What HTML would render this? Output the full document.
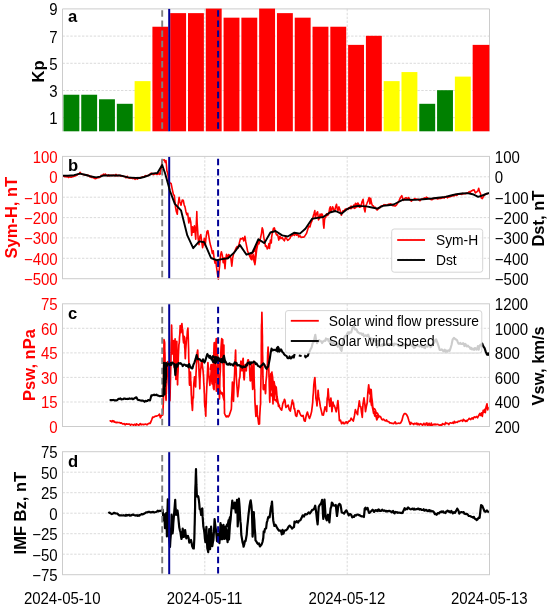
<!DOCTYPE html>
<html><head><meta charset="utf-8"><title>Storm May 2024</title>
<style>html,body{margin:0;padding:0;background:#fff}svg{display:block}text{font-family:"Liberation Sans", Arial, sans-serif}</style></head><body>
<svg width="550" height="609" viewBox="0 0 550 609">
<rect width="550" height="609" fill="#fff"/>
<line x1="62.5" x2="489.5" y1="117.7" y2="117.7" stroke="#cccccc" stroke-width="0.7" stroke-dasharray="2.4 1.5"/>
<line x1="62.5" x2="489.5" y1="90.5" y2="90.5" stroke="#cccccc" stroke-width="0.7" stroke-dasharray="2.4 1.5"/>
<line x1="62.5" x2="489.5" y1="63.3" y2="63.3" stroke="#cccccc" stroke-width="0.7" stroke-dasharray="2.4 1.5"/>
<line x1="62.5" x2="489.5" y1="36.1" y2="36.1" stroke="#cccccc" stroke-width="0.7" stroke-dasharray="2.4 1.5"/>
<line x1="204.8" x2="204.8" y1="8.9" y2="131.3" stroke="#cccccc" stroke-width="0.7" stroke-dasharray="2.4 1.5"/>
<line x1="347.2" x2="347.2" y1="8.9" y2="131.3" stroke="#cccccc" stroke-width="0.7" stroke-dasharray="2.4 1.5"/>
<path d="M62.5 131.3 V8.9 H489.5 V131.3" fill="none" stroke="#cccccc" stroke-width="1"/>
<rect x="63.45" y="94.73" width="15.89" height="36.57" fill="#008000"/>
<rect x="81.24" y="94.73" width="15.89" height="36.57" fill="#008000"/>
<rect x="99.03" y="99.27" width="15.89" height="32.03" fill="#008000"/>
<rect x="116.83" y="103.80" width="15.89" height="27.50" fill="#008000"/>
<rect x="134.62" y="81.13" width="15.89" height="50.17" fill="#ffff00"/>
<rect x="152.41" y="26.73" width="15.89" height="104.57" fill="#ff0000"/>
<rect x="170.20" y="13.13" width="15.89" height="118.17" fill="#ff0000"/>
<rect x="187.99" y="13.13" width="15.89" height="118.17" fill="#ff0000"/>
<rect x="205.78" y="8.60" width="15.89" height="122.70" fill="#ff0000"/>
<rect x="223.57" y="17.67" width="15.89" height="113.63" fill="#ff0000"/>
<rect x="241.37" y="17.67" width="15.89" height="113.63" fill="#ff0000"/>
<rect x="259.16" y="8.60" width="15.89" height="122.70" fill="#ff0000"/>
<rect x="276.95" y="13.13" width="15.89" height="118.17" fill="#ff0000"/>
<rect x="294.74" y="17.67" width="15.89" height="113.63" fill="#ff0000"/>
<rect x="312.53" y="26.73" width="15.89" height="104.57" fill="#ff0000"/>
<rect x="330.32" y="26.73" width="15.89" height="104.57" fill="#ff0000"/>
<rect x="348.12" y="44.87" width="15.89" height="86.43" fill="#ff0000"/>
<rect x="365.91" y="35.80" width="15.89" height="95.50" fill="#ff0000"/>
<rect x="383.70" y="81.13" width="15.89" height="50.17" fill="#ffff00"/>
<rect x="401.49" y="72.07" width="15.89" height="59.23" fill="#ffff00"/>
<rect x="419.28" y="103.80" width="15.89" height="27.50" fill="#008000"/>
<rect x="437.07" y="90.20" width="15.89" height="41.10" fill="#008000"/>
<rect x="454.87" y="76.60" width="15.89" height="54.70" fill="#ffff00"/>
<rect x="472.66" y="44.87" width="16.69" height="86.43" fill="#ff0000"/>
<line x1="162.2" x2="162.2" y1="8.9" y2="131.3" stroke="#808080" stroke-width="1.9" stroke-dasharray="6.5 3.68" stroke-dashoffset="8.88"/>
<line x1="169.2" x2="169.2" y1="8.9" y2="131.3" stroke="#000096" stroke-width="2"/>
<line x1="218.1" x2="218.1" y1="8.9" y2="131.3" stroke="#000096" stroke-width="2" stroke-dasharray="6.5 3.68" stroke-dashoffset="8.88"/>
<text transform="translate(57.7 117.7) scale(1 1.07)" y="6.0" text-anchor="end" font-size="15" fill="#000">1</text>
<text transform="translate(57.7 90.5) scale(1 1.07)" y="6.0" text-anchor="end" font-size="15" fill="#000">3</text>
<text transform="translate(57.7 63.3) scale(1 1.07)" y="6.0" text-anchor="end" font-size="15" fill="#000">5</text>
<text transform="translate(57.7 36.1) scale(1 1.07)" y="6.0" text-anchor="end" font-size="15" fill="#000">7</text>
<text transform="translate(57.7 8.9) scale(1 1.07)" y="6.0" text-anchor="end" font-size="15" fill="#000">9</text>
<text transform="translate(43.6 71.4) rotate(-90)" text-anchor="middle" font-weight="bold" font-size="16.5" fill="#000">Kp</text>
<text x="68" y="21.8" font-weight="bold" font-size="16.6" fill="#000">a</text>
<line x1="62.5" x2="489.5" y1="176.8" y2="176.8" stroke="#cccccc" stroke-width="0.7" stroke-dasharray="2.4 1.5"/>
<line x1="62.5" x2="489.5" y1="197.2" y2="197.2" stroke="#cccccc" stroke-width="0.7" stroke-dasharray="2.4 1.5"/>
<line x1="62.5" x2="489.5" y1="217.6" y2="217.6" stroke="#cccccc" stroke-width="0.7" stroke-dasharray="2.4 1.5"/>
<line x1="62.5" x2="489.5" y1="237.9" y2="237.9" stroke="#cccccc" stroke-width="0.7" stroke-dasharray="2.4 1.5"/>
<line x1="62.5" x2="489.5" y1="258.3" y2="258.3" stroke="#cccccc" stroke-width="0.7" stroke-dasharray="2.4 1.5"/>
<line x1="204.8" x2="204.8" y1="156.4" y2="278.7" stroke="#cccccc" stroke-width="0.7" stroke-dasharray="2.4 1.5"/>
<line x1="347.2" x2="347.2" y1="156.4" y2="278.7" stroke="#cccccc" stroke-width="0.7" stroke-dasharray="2.4 1.5"/>
<path d="M63.0 176.0 L63.8 176.2 L64.5 176.7 L65.2 176.1 L66.0 176.9 L66.8 176.6 L67.6 176.7 L68.4 177.5 L69.2 177.0 L70.0 177.0 L70.8 177.1 L71.6 177.2 L72.4 176.6 L73.2 176.7 L74.0 176.1 L74.8 176.1 L75.5 175.8 L76.2 175.3 L77.0 175.1 L78.0 174.2 L79.0 173.9 L80.0 172.3 L81.0 173.5 L81.7 174.2 L82.4 174.3 L83.2 174.6 L84.0 174.5 L84.8 175.0 L85.5 174.7 L86.2 175.2 L87.0 174.9 L87.8 175.7 L88.5 175.3 L89.2 175.9 L90.0 177.0 L90.8 176.1 L91.5 177.4 L92.2 177.5 L93.0 177.5 L93.8 178.0 L94.5 178.3 L95.2 178.7 L96.0 178.5 L96.8 178.1 L97.5 177.9 L98.2 177.5 L99.0 177.6 L99.8 176.8 L100.5 177.0 L101.2 175.4 L102.0 175.2 L102.8 174.9 L103.6 174.2 L104.4 175.3 L105.3 174.0 L106.1 175.0 L107.0 175.2 L107.8 176.0 L108.5 174.8 L109.2 175.9 L110.0 175.3 L110.8 175.5 L111.5 175.3 L112.2 175.7 L113.0 175.0 L113.8 175.3 L114.5 175.4 L115.2 175.9 L116.0 174.4 L116.8 175.8 L117.6 175.6 L118.4 175.2 L119.2 175.5 L120.0 175.2 L120.8 176.2 L121.5 175.9 L122.2 175.9 L123.0 176.1 L123.8 176.4 L124.5 176.6 L125.2 176.6 L126.0 177.9 L126.8 176.7 L127.5 176.3 L128.2 177.8 L129.0 177.9 L129.8 178.2 L130.5 178.0 L131.2 178.1 L132.0 178.3 L132.8 178.6 L133.5 178.2 L134.2 178.4 L135.0 179.3 L135.8 178.7 L136.5 178.1 L137.2 179.1 L138.0 178.5 L138.8 177.9 L139.5 177.6 L140.2 178.0 L141.0 177.5 L141.8 177.1 L142.5 176.7 L143.2 176.7 L144.0 177.0 L144.8 176.2 L145.5 175.6 L146.2 176.1 L147.0 175.6 L147.9 175.6 L148.7 175.5 L149.6 174.7 L150.3 173.9 L151.0 173.2 L152.0 173.4 L153.0 174.6 L154.0 174.4 L155.0 173.5 L156.0 173.9 L157.0 174.5 L158.0 173.8 L159.0 173.3 L159.8 174.1 L160.6 173.7 L159.7 174.4 L158.9 173.8 L159.6 173.4 L160.3 172.2 L161.1 169.6 L162.2 160.3 L163.3 160.0 L164.4 159.9 L165.3 162.4 L166.0 160.5 L166.4 164.8 L166.9 170.8 L167.7 173.2 L168.9 181.2 L170.0 182.9 L171.1 183.4 L172.2 188.9 L173.3 194.1 L174.4 195.8 L175.0 201.8 L175.5 207.3 L176.4 211.8 L177.3 214.2 L177.7 207.6 L178.2 203.8 L179.1 197.4 L179.9 201.9 L181.0 205.3 L182.2 200.1 L183.3 200.3 L184.2 205.0 L185.0 206.9 L185.9 211.5 L186.8 214.8 L187.7 213.3 L188.8 223.0 L189.9 217.6 L190.8 222.2 L191.3 229.1 L191.7 235.4 L192.6 226.8 L193.5 232.3 L194.4 225.8 L195.0 230.8 L195.7 239.1 L195.9 234.5 L196.1 229.0 L196.4 221.4 L196.6 218.4 L196.8 211.6 L197.0 218.5 L197.2 223.5 L197.5 227.9 L197.8 232.4 L198.1 238.4 L199.0 244.7 L199.9 236.4 L200.8 234.5 L201.7 241.6 L202.6 247.7 L203.4 244.0 L204.3 238.4 L205.2 245.5 L206.1 237.2 L207.0 231.4 L207.9 230.7 L208.8 236.2 L209.7 241.6 L210.5 245.3 L211.4 248.4 L212.3 253.4 L213.2 250.7 L214.1 258.4 L215.0 263.2 L215.9 260.5 L216.3 265.6 L216.8 268.9 L217.6 274.7 L218.3 279.2 L219.0 271.6 L219.6 265.9 L220.5 255.3 L221.4 251.8 L222.3 255.2 L223.2 262.7 L224.1 257.7 L225.0 268.6 L225.6 260.0 L226.5 254.3 L227.6 258.5 L228.7 254.5 L229.8 255.5 L230.9 258.3 L231.8 266.2 L232.7 257.8 L233.8 253.0 L234.9 250.9 L236.1 248.0 L237.2 246.4 L238.3 247.9 L239.4 242.6 L240.5 238.5 L241.6 239.0 L242.7 237.8 L243.8 240.9 L244.9 236.3 L245.8 241.9 L246.7 246.5 L247.6 251.0 L248.7 254.1 L249.8 256.4 L250.9 259.0 L252.0 257.9 L253.1 256.3 L254.2 262.0 L255.3 255.8 L256.5 246.3 L257.6 244.9 L258.7 240.9 L257.9 242.1 L257.2 244.2 L256.5 245.0 L255.8 246.5 L255.1 247.7 L254.3 251.2 L253.6 249.6 L252.9 252.6 L252.2 253.4 L251.4 253.4 L250.7 256.2 L250.0 255.3 L250.9 255.7 L251.8 259.8 L252.7 255.8 L253.3 254.7 L254.2 260.9 L254.9 264.7 L255.8 257.6 L256.7 249.5 L257.8 244.1 L258.9 243.9 L259.8 241.3 L260.6 237.5 L261.5 233.3 L262.2 227.9 L262.9 229.7 L263.8 237.1 L264.6 241.4 L265.5 246.4 L266.4 245.9 L267.3 248.9 L268.2 247.6 L268.9 243.6 L269.5 248.5 L270.4 240.0 L271.3 242.9 L271.7 236.5 L272.2 233.8 L272.8 231.1 L273.5 228.2 L274.4 227.9 L275.5 232.2 L276.6 235.0 L277.7 234.9 L278.8 240.1 L279.9 236.2 L281.0 238.6 L282.2 237.5 L283.3 239.5 L284.4 240.8 L285.5 237.3 L286.6 238.6 L287.7 240.3 L288.8 239.5 L289.9 238.5 L291.0 235.9 L292.1 235.7 L293.2 234.2 L294.4 235.4 L295.5 233.9 L296.6 235.2 L297.7 233.9 L298.8 237.0 L299.9 235.7 L301.0 237.4 L302.1 237.0 L303.2 237.3 L304.3 236.7 L305.4 235.1 L306.6 233.3 L307.7 229.5 L308.8 226.1 L309.9 227.0 L311.0 222.8 L312.1 220.6 L313.2 216.3 L314.1 213.3 L314.8 210.6 L315.4 217.5 L316.1 215.0 L317.0 212.5 L317.6 211.8 L318.5 219.9 L319.2 218.6 L320.1 214.1 L321.0 216.3 L321.9 213.9 L322.7 215.3 L323.1 219.0 L323.4 224.4 L323.9 228.1 L324.5 220.1 L325.0 217.7 L325.8 217.2 L326.5 213.8 L327.6 215.5 L328.7 214.1 L329.6 208.6 L330.3 206.8 L330.9 211.9 L331.6 210.3 L332.5 206.7 L333.2 208.2 L334.1 211.1 L334.7 210.7 L335.6 207.1 L336.5 204.2 L337.4 209.6 L338.0 210.7 L338.9 206.9 L339.8 209.3 L340.7 212.9 L341.4 215.3 L342.3 212.0 L343.1 210.8 L344.3 210.4 L345.4 209.0 L346.3 209.3 L347.1 208.9 L347.9 209.5 L348.7 207.8 L349.5 208.3 L350.2 206.8 L351.1 206.1 L352.0 207.0 L352.9 207.3 L353.8 205.1 L354.6 206.2 L355.3 205.1 L356.5 204.1 L357.6 203.2 L358.7 205.1 L359.8 205.0 L359.0 205.8 L358.3 206.2 L357.5 206.6 L356.8 206.0 L356.0 207.4 L355.3 207.9 L354.5 208.4 L353.8 206.7 L353.0 207.7 L352.3 207.0 L351.5 208.3 L350.8 208.7 L350.0 208.1 L350.7 207.2 L351.5 207.5 L352.2 207.0 L353.1 206.9 L354.1 207.7 L355.5 203.3 L356.8 205.6 L358.2 203.3 L359.5 207.3 L360.9 206.7 L362.0 201.8 L363.1 199.3 L364.2 208.9 L365.0 211.9 L365.8 206.0 L366.9 203.5 L368.0 200.8 L369.1 197.6 L369.9 203.9 L370.7 198.3 L371.5 203.1 L372.4 205.5 L373.2 205.7 L374.1 207.1 L375.1 207.2 L375.8 207.8 L376.5 209.5 L377.3 210.0 L378.6 208.5 L380.0 207.7 L380.7 206.2 L381.5 206.0 L382.2 206.4 L383.1 205.5 L384.1 204.6 L385.0 205.1 L385.9 204.9 L386.8 205.2 L387.6 204.9 L388.5 204.2 L389.3 204.0 L390.1 204.0 L390.9 203.9 L391.6 205.1 L392.4 205.5 L393.1 205.8 L394.0 205.8 L395.0 206.1 L396.4 205.0 L397.7 203.0 L399.1 200.6 L400.4 197.7 L401.8 195.6 L403.2 200.4 L404.5 198.6 L405.5 197.8 L406.4 197.9 L407.2 198.7 L407.9 198.5 L408.6 197.5 L410.0 199.9 L411.4 201.2 L412.3 200.0 L413.3 199.6 L414.0 199.3 L414.7 198.5 L415.4 198.8 L416.4 199.2 L417.3 199.2 L418.2 199.3 L419.1 200.3 L420.0 200.7 L420.9 199.5 L421.8 199.1 L422.7 199.2 L423.6 198.4 L424.5 197.9 L425.4 198.7 L426.4 197.2 L427.3 197.8 L428.2 198.3 L429.1 198.6 L430.0 199.0 L430.9 199.4 L431.8 199.8 L432.6 199.3 L433.4 198.9 L434.3 198.1 L435.1 198.6 L435.9 198.1 L436.7 198.5 L437.5 199.0 L438.4 198.6 L439.2 198.4 L440.0 198.2 L440.8 198.4 L441.6 198.3 L442.4 197.6 L443.3 197.6 L444.1 198.2 L444.9 196.7 L445.7 197.2 L446.5 196.6 L447.4 197.8 L448.2 197.2 L449.1 197.0 L450.0 196.7 L450.9 196.5 L451.8 196.3 L452.7 195.2 L453.6 195.9 L454.5 195.8 L455.4 194.6 L456.4 195.4 L457.3 195.1 L458.2 193.9 L459.1 194.2 L460.0 194.2 L460.9 194.0 L461.8 194.4 L462.7 193.4 L463.6 193.7 L464.5 193.7 L465.4 193.8 L466.4 193.3 L467.3 193.0 L468.2 193.2 L469.1 191.5 L470.0 192.7 L470.7 191.7 L471.4 190.7 L472.2 190.7 L473.1 190.0 L474.1 189.9 L475.4 192.9 L476.8 191.9 L477.9 190.7 L478.7 188.3 L479.5 191.6 L480.4 193.2 L481.2 197.8 L482.3 198.6 L483.6 196.1 L485.0 194.5 L486.4 193.6 L487.1 193.7 L487.8 193.7 L488.5 193.7" fill="none" stroke="#ff0000" stroke-width="1.6" stroke-linejoin="round"/>
<line x1="162.2" x2="162.2" y1="156.4" y2="278.7" stroke="#808080" stroke-width="1.9" stroke-dasharray="6.5 3.68" stroke-dashoffset="7.88"/>
<line x1="169.2" x2="169.2" y1="156.4" y2="278.7" stroke="#000096" stroke-width="2"/>
<line x1="218.1" x2="218.1" y1="156.4" y2="278.7" stroke="#000096" stroke-width="2" stroke-dasharray="6.5 3.68" stroke-dashoffset="7.88"/>
<path d="M62.5 175.6 L68.0 175.8 L74.0 175.2 L80.0 173.6 L86.0 175.0 L90.0 176.2 L96.0 177.4 L100.0 176.6 L104.0 175.4 L112.0 175.5 L120.0 175.4 L124.0 176.4 L128.0 177.4 L134.0 177.9 L140.0 178.0 L144.0 177.0 L148.0 175.6 L152.0 173.6 L157.4 173.0 L162.2 165.1 L165.0 173.0 L170.0 191.0 L174.8 203.9 L181.0 210.3 L187.3 235.4 L193.2 248.2 L199.2 241.4 L204.3 242.3 L211.0 258.0 L216.5 260.2 L222.0 259.1 L228.0 258.2 L234.3 252.5 L239.8 244.9 L246.5 254.7 L252.5 252.5 L258.4 239.2 L264.4 243.1 L270.4 232.5 L275.5 231.0 L282.2 235.4 L287.7 236.5 L294.4 232.7 L299.9 233.6 L305.4 228.7 L312.1 218.8 L317.6 217.9 L323.2 217.0 L329.8 212.5 L335.4 211.0 L341.4 213.7 L347.6 208.8 L353.1 206.6 L358.2 205.9 L366.4 206.4 L372.0 207.5 L377.3 208.6 L382.7 205.9 L388.0 205.2 L393.6 204.5 L398.5 202.0 L403.2 199.6 L409.0 199.8 L415.4 199.9 L423.0 199.2 L431.8 198.5 L438.0 197.8 L445.4 196.9 L451.0 195.5 L456.4 194.2 L462.0 193.5 L467.3 193.1 L472.7 194.2 L478.2 196.9 L483.6 195.0 L489.0 192.8" fill="none" stroke="#000" stroke-width="1.9" stroke-linejoin="round"/>
<rect x="62.5" y="156.4" width="427.0" height="122.3" fill="none" stroke="#cccccc" stroke-width="1"/>
<rect x="391.7" y="229" width="91" height="43.2" rx="2.5" fill="#fff" fill-opacity="0.8" stroke="#d6d6d6" stroke-width="1"/>
<line x1="397.2" x2="425" y1="240" y2="240" stroke="#ff0000" stroke-width="1.8"/>
<line x1="397.2" x2="425" y1="260" y2="260" stroke="#000" stroke-width="1.9"/>
<text transform="translate(436 239.6) scale(1 1.07)" y="4.7" font-size="13.8" fill="#000">Sym-H</text>
<text transform="translate(436 259.7) scale(1 1.07)" y="4.7" font-size="13.8" fill="#000">Dst</text>
<text transform="translate(57.7 156.4) scale(1 1.07)" y="6.0" text-anchor="end" font-size="15" fill="#ff0000">100</text>
<text transform="translate(57.7 176.8) scale(1 1.07)" y="6.0" text-anchor="end" font-size="15" fill="#ff0000">0</text>
<text transform="translate(57.7 197.2) scale(1 1.07)" y="6.0" text-anchor="end" font-size="15" fill="#ff0000">−100</text>
<text transform="translate(57.7 217.6) scale(1 1.07)" y="6.0" text-anchor="end" font-size="15" fill="#ff0000">−200</text>
<text transform="translate(57.7 237.9) scale(1 1.07)" y="6.0" text-anchor="end" font-size="15" fill="#ff0000">−300</text>
<text transform="translate(57.7 258.3) scale(1 1.07)" y="6.0" text-anchor="end" font-size="15" fill="#ff0000">−400</text>
<text transform="translate(57.7 278.7) scale(1 1.07)" y="6.0" text-anchor="end" font-size="15" fill="#ff0000">−500</text>
<text transform="translate(494.8 156.4) scale(1 1.07)" y="6.0" font-size="15" fill="#000">100</text>
<text transform="translate(494.8 176.8) scale(1 1.07)" y="6.0" font-size="15" fill="#000">0</text>
<text transform="translate(494.8 197.2) scale(1 1.07)" y="6.0" font-size="15" fill="#000">−100</text>
<text transform="translate(494.8 217.6) scale(1 1.07)" y="6.0" font-size="15" fill="#000">−200</text>
<text transform="translate(494.8 237.9) scale(1 1.07)" y="6.0" font-size="15" fill="#000">−300</text>
<text transform="translate(494.8 258.3) scale(1 1.07)" y="6.0" font-size="15" fill="#000">−400</text>
<text transform="translate(494.8 278.7) scale(1 1.07)" y="6.0" font-size="15" fill="#000">−500</text>
<text transform="translate(17.0 217.6) rotate(-90)" text-anchor="middle" font-weight="bold" font-size="16.5" fill="#ff0000">Sym-H, nT</text>
<text transform="translate(543.5 218.6) rotate(-90)" text-anchor="middle" font-weight="bold" font-size="16.5" fill="#000">Dst, nT</text>
<text x="68" y="171.0" font-weight="bold" font-size="16.6" fill="#000">b</text>
<line x1="62.5" x2="489.5" y1="402.0" y2="402.0" stroke="#cccccc" stroke-width="0.7" stroke-dasharray="2.4 1.5"/>
<line x1="62.5" x2="489.5" y1="377.4" y2="377.4" stroke="#cccccc" stroke-width="0.7" stroke-dasharray="2.4 1.5"/>
<line x1="62.5" x2="489.5" y1="352.9" y2="352.9" stroke="#cccccc" stroke-width="0.7" stroke-dasharray="2.4 1.5"/>
<line x1="62.5" x2="489.5" y1="328.3" y2="328.3" stroke="#cccccc" stroke-width="0.7" stroke-dasharray="2.4 1.5"/>
<line x1="204.8" x2="204.8" y1="303.8" y2="426.5" stroke="#cccccc" stroke-width="0.7" stroke-dasharray="2.4 1.5"/>
<line x1="347.2" x2="347.2" y1="303.8" y2="426.5" stroke="#cccccc" stroke-width="0.7" stroke-dasharray="2.4 1.5"/>
<path d="M109.6 421.3 L110.3 420.9 L111.0 421.0 L111.7 421.8 L112.4 420.7 L113.1 421.6 L113.8 420.8 L114.5 422.2 L115.4 422.1 L116.2 422.7 L117.0 422.1 L117.8 422.6 L118.6 422.5 L119.4 422.5 L120.3 423.1 L121.1 422.8 L121.9 423.4 L122.7 424.0 L123.5 423.8 L124.3 423.7 L125.1 424.8 L125.8 424.1 L126.6 423.9 L127.4 424.2 L128.2 424.1 L129.0 424.1 L129.7 424.2 L130.5 425.2 L131.3 424.4 L132.1 424.5 L132.9 424.8 L133.6 425.3 L134.4 424.4 L135.1 424.3 L135.9 425.5 L136.6 423.9 L137.3 424.4 L138.1 424.8 L138.8 425.4 L139.6 424.2 L140.3 423.6 L141.1 424.8 L141.8 424.3 L142.6 424.3 L143.4 424.6 L144.1 424.4 L144.9 424.3 L145.7 424.0 L146.5 424.6 L147.3 424.6 L148.2 423.7 L149.1 423.3 L150.0 423.5 L150.8 422.0 L151.6 420.0 L152.7 417.0 L153.6 417.3 L154.5 416.6 L155.4 416.2 L156.4 416.2 L157.3 415.8 L158.2 415.5 L159.5 414.2 L160.4 417.8 L161.4 415.6 L162.7 414.9 L162.9 413.3 L163.1 407.6 L163.3 402.5 L163.4 399.9 L163.4 397.5 L163.5 390.5 L163.5 387.9 L163.6 384.6 L163.6 375.2 L163.7 371.7 L163.7 369.5 L163.8 361.3 L163.8 359.3 L163.8 357.6 L163.9 352.9 L163.9 347.9 L164.0 339.7 L164.6 342.2 L164.7 343.6 L164.7 348.2 L164.8 352.0 L164.9 352.8 L165.0 357.5 L165.0 362.1 L165.1 371.4 L165.1 371.2 L165.2 376.5 L165.2 380.7 L165.2 386.3 L165.5 391.5 L165.7 396.5 L166.1 400.4 L166.2 393.2 L166.3 394.2 L166.4 390.1 L166.5 387.3 L166.6 379.9 L166.7 373.7 L167.4 369.0 L167.8 361.5 L168.0 366.6 L168.2 371.0 L168.4 377.3 L168.7 384.5 L168.9 386.6 L169.2 392.5 L169.5 396.4 L169.9 400.8 L170.1 394.6 L170.2 389.9 L170.4 381.5 L170.5 379.2 L170.5 374.8 L170.6 373.9 L170.7 369.4 L170.8 365.9 L170.9 362.3 L171.0 355.0 L171.1 352.9 L171.1 350.1 L171.2 342.7 L171.4 339.4 L171.5 332.5 L171.6 325.2 L171.8 332.9 L171.9 336.4 L172.1 342.9 L172.3 347.3 L172.5 353.9 L172.7 345.7 L172.9 348.2 L173.4 340.6 L173.5 342.1 L173.6 345.5 L173.7 351.2 L173.8 356.6 L173.9 361.2 L174.1 366.1 L174.2 367.3 L174.3 364.4 L174.4 364.0 L174.5 358.0 L174.6 350.9 L174.8 347.7 L174.9 342.5 L175.1 338.9 L175.1 347.1 L175.2 349.6 L175.3 356.5 L175.4 359.6 L175.5 361.6 L175.6 367.3 L175.7 376.3 L175.8 375.6 L175.9 379.4 L176.0 378.8 L176.1 372.7 L176.2 368.3 L176.3 366.4 L176.3 356.9 L176.5 356.2 L176.6 349.5 L176.7 344.7 L176.8 341.4 L176.9 349.3 L176.9 351.9 L177.0 353.8 L177.1 359.7 L177.2 368.7 L177.3 372.6 L177.4 374.0 L177.5 384.5 L177.6 384.8 L177.7 379.2 L177.8 376.6 L177.9 374.1 L178.1 370.9 L178.2 365.0 L178.3 357.6 L178.5 352.4 L178.9 344.6 L179.3 342.6 L179.5 337.4 L179.8 334.6 L180.2 325.7 L180.6 331.2 L181.0 332.7 L181.5 326.8 L181.9 323.7 L182.3 328.2 L182.7 330.1 L183.2 339.4 L183.6 342.9 L184.0 336.3 L184.5 337.1 L184.6 341.0 L184.7 347.2 L184.9 348.8 L185.1 354.1 L185.3 358.6 L185.5 354.6 L185.7 349.9 L186.2 343.0 L186.6 338.0 L187.0 337.2 L187.4 331.1 L187.9 328.2 L188.0 330.5 L188.2 336.6 L188.3 338.9 L188.4 343.4 L188.6 349.4 L188.7 356.8 L188.8 359.8 L188.9 363.0 L189.0 367.5 L189.2 374.2 L189.3 379.1 L189.4 383.1 L189.6 385.1 L189.8 381.4 L190.0 376.3 L190.4 372.1 L190.6 375.4 L190.7 380.7 L190.9 381.9 L191.1 387.7 L191.3 394.6 L191.5 396.7 L191.7 403.3 L192.0 404.6 L192.4 410.4 L192.6 407.4 L192.8 400.8 L193.1 397.0 L193.4 398.0 L193.6 388.5 L193.8 384.2 L194.2 380.2 L194.5 376.9 L194.9 382.1 L195.6 387.0 L195.8 381.3 L196.0 374.0 L196.3 368.8 L196.6 361.7 L197.0 354.1 L197.7 350.0 L198.1 358.8 L198.8 364.2 L199.0 370.7 L199.2 376.2 L199.5 379.8 L199.8 388.8 L200.0 379.2 L200.3 373.7 L200.6 369.7 L200.9 368.0 L201.3 362.7 L202.0 360.7 L202.4 365.8 L203.0 370.2 L203.2 372.4 L203.5 376.4 L203.8 382.9 L204.1 387.0 L204.2 391.9 L204.4 394.1 L204.5 400.8 L204.8 406.2 L205.2 408.1 L205.8 416.2 L205.9 409.7 L206.1 404.4 L206.2 404.0 L206.4 395.6 L206.7 389.2 L206.9 385.3 L207.1 381.0 L207.3 376.0 L207.6 369.3 L207.9 362.6 L208.4 369.3 L208.8 375.5 L209.2 379.4 L209.9 385.3 L210.3 378.2 L210.9 374.8 L211.4 368.0 L212.0 364.8 L212.2 371.2 L212.4 376.3 L212.7 383.0 L213.1 383.9 L213.5 388.3 L214.1 389.6 L214.2 382.7 L214.3 381.2 L214.4 375.5 L214.6 367.0 L214.7 367.2 L214.9 363.4 L215.0 356.3 L215.2 356.1 L215.6 346.1 L216.3 338.7 L216.4 345.7 L216.5 348.5 L216.7 351.2 L217.0 355.2 L217.3 364.4 L217.8 368.2 L218.4 375.8 L218.6 380.7 L218.8 384.5 L219.1 389.8 L219.5 398.9 L219.6 394.6 L219.7 388.7 L219.8 382.7 L219.9 377.4 L220.1 373.4 L220.3 371.7 L220.5 364.8 L220.7 358.2 L221.0 351.4 L221.3 348.3 L221.6 341.3 L222.0 340.6 L222.7 339.6 L222.7 344.4 L222.8 347.2 L222.9 350.7 L222.9 355.9 L223.0 362.7 L223.1 364.6 L223.2 366.0 L223.3 375.1 L223.5 377.3 L223.6 386.8 L223.7 384.6 L223.9 390.2 L224.0 394.9 L224.2 400.9 L223.4 397.8 L222.7 394.8 L222.0 392.5 L221.3 393.8 L220.5 391.6 L219.8 389.9 L219.1 392.8 L218.4 389.0 L217.7 387.9 L216.9 383.8 L216.2 383.5 L215.5 381.1 L214.8 379.5 L214.0 379.5 L213.3 377.7 L212.6 375.7 L211.9 373.8 L211.1 369.7 L210.4 369.2 L211.1 364.7 L211.3 368.8 L211.5 373.4 L211.8 380.6 L212.1 383.9 L212.6 378.9 L213.2 376.1 L213.3 369.9 L213.4 368.5 L213.5 362.7 L213.6 358.9 L213.8 354.5 L214.1 344.2 L214.3 342.6 L214.5 345.9 L214.7 352.6 L215.0 358.5 L215.3 366.1 L215.5 368.2 L215.6 375.2 L215.8 376.0 L216.0 381.0 L216.2 385.5 L216.4 391.2 L216.5 384.8 L216.6 379.0 L216.7 374.7 L216.8 368.2 L217.0 368.2 L217.2 363.1 L217.3 358.3 L217.5 353.8 L217.9 358.8 L218.5 363.4 L219.0 369.6 L219.6 369.2 L219.8 364.9 L220.0 364.5 L220.7 358.0 L220.9 351.2 L221.1 346.8 L221.7 338.7 L222.0 346.6 L222.2 349.4 L222.5 355.1 L222.8 360.5 L223.0 357.8 L223.2 350.8 L223.9 345.2 L223.9 348.6 L223.9 352.8 L224.0 357.4 L224.0 363.1 L224.0 368.9 L224.0 370.9 L224.1 375.6 L224.1 380.5 L224.1 385.9 L224.2 390.8 L224.2 391.9 L224.3 398.8 L224.4 400.8 L224.4 407.9 L224.5 409.4 L224.5 413.5 L225.4 415.4 L226.2 416.9 L227.1 415.8 L228.1 416.9 L229.2 415.5 L230.3 412.2 L231.3 409.3 L231.5 406.0 L231.6 399.1 L231.8 396.1 L232.1 390.7 L232.4 382.1 L232.6 390.8 L232.8 393.7 L233.5 401.3 L233.6 396.8 L233.8 392.7 L233.9 388.0 L234.1 384.0 L234.3 377.9 L234.5 375.8 L234.7 371.1 L234.8 365.5 L235.0 361.9 L235.2 358.9 L235.4 354.1 L235.6 350.2 L235.7 354.1 L235.8 360.5 L235.9 367.1 L236.0 369.0 L236.2 370.0 L236.4 379.6 L236.5 380.2 L236.7 383.2 L237.1 388.0 L237.7 396.7 L238.2 391.4 L238.8 387.0 L239.2 379.4 L239.9 377.0 L240.3 368.2 L240.9 361.0 L241.4 367.3 L242.0 370.8 L242.4 363.0 L243.1 358.3 L243.2 358.4 L243.4 368.7 L243.5 369.5 L243.8 376.8 L244.2 379.8 L244.4 377.1 L244.6 372.3 L244.9 365.8 L245.2 364.6 L245.6 370.4 L246.3 370.8 L246.7 363.9 L247.4 363.0 L247.8 360.1 L248.4 359.9 L248.8 362.3 L249.5 366.6 L249.7 370.9 L249.9 375.4 L250.2 380.8 L250.6 380.8 L250.8 378.1 L251.0 372.2 L251.3 368.7 L251.6 364.5 L251.8 369.0 L251.9 374.8 L252.0 376.8 L252.4 384.3 L252.7 389.4 L252.8 384.3 L253.0 379.5 L253.1 373.2 L253.3 369.4 L253.5 364.3 L253.8 361.4 L253.9 364.4 L254.0 369.9 L254.1 378.3 L254.2 380.0 L254.3 384.1 L254.5 389.2 L254.7 390.2 L254.8 397.2 L255.0 402.6 L255.3 407.4 L255.6 412.5 L255.9 416.5 L256.3 411.8 L257.0 405.7 L257.4 414.9 L258.0 418.7 L258.7 424.1 L259.5 424.0 L259.7 416.4 L259.9 413.3 L260.3 406.2 L260.6 404.0 L260.6 397.6 L260.7 390.4 L260.7 389.0 L260.8 387.0 L260.9 381.6 L261.0 375.8 L261.1 373.6 L261.1 369.2 L261.2 366.4 L261.3 360.9 L261.3 355.5 L261.3 349.1 L261.3 346.2 L261.4 341.6 L261.4 336.6 L261.4 332.7 L261.5 325.1 L261.7 322.8 L261.8 316.8 L261.9 312.3 L262.0 316.7 L262.1 321.4 L262.2 327.4 L262.3 333.3 L262.4 336.1 L262.4 341.7 L262.5 344.5 L262.5 351.0 L262.6 354.9 L262.7 357.4 L262.7 365.9 L262.8 367.6 L262.9 374.1 L262.9 376.9 L263.1 380.5 L263.2 388.6 L263.4 389.6 L263.8 384.6 L264.4 385.0 L264.9 387.6 L265.5 393.6 L265.7 391.5 L265.9 382.6 L266.2 379.5 L266.6 375.6 L266.8 371.9 L267.2 368.1 L267.4 364.8 L267.6 356.4 L267.8 352.3 L268.1 347.1 L268.2 349.2 L268.3 356.0 L268.5 359.9 L268.7 366.1 L268.9 371.5 L269.0 377.2 L269.1 376.0 L269.2 382.4 L269.3 386.8 L269.5 391.1 L269.6 398.1 L269.8 402.3 L269.9 397.7 L270.0 389.9 L270.2 386.0 L270.4 383.1 L270.6 378.3 L270.8 373.7 L271.3 373.5 L271.9 372.1 L272.0 376.2 L272.2 385.9 L272.3 387.5 L272.5 394.2 L272.8 398.8 L273.0 404.0 L273.2 395.7 L273.4 389.1 L273.7 386.6 L274.0 381.5 L274.5 384.2 L275.1 391.1 L275.5 389.5 L276.2 387.1 L276.6 391.5 L277.0 396.5 L277.9 401.4 L278.5 406.4 L279.4 405.6 L278.6 405.2 L277.9 403.3 L277.2 399.9 L276.5 401.6 L275.8 399.9 L275.0 400.2 L274.3 398.7 L273.6 399.1 L272.9 395.9 L272.2 395.9 L271.4 395.6 L270.7 393.6 L270.0 393.3 L270.4 390.7 L271.1 388.5 L271.5 377.6 L272.1 373.9 L272.6 377.2 L273.2 384.7 L273.6 393.4 L274.3 399.2 L274.7 389.2 L275.3 386.1 L275.8 390.9 L276.4 395.4 L276.8 399.3 L277.5 401.0 L278.5 403.8 L279.6 407.1 L280.7 409.1 L281.7 410.2 L282.8 403.7 L283.9 401.1 L284.5 399.4 L285.0 400.3 L285.6 405.8 L286.0 407.5 L287.1 406.3 L288.2 405.1 L289.2 409.5 L290.3 411.0 L291.4 405.3 L292.4 400.0 L293.1 403.9 L293.5 403.0 L294.1 408.8 L294.6 408.5 L295.6 415.5 L296.7 416.3 L297.8 410.5 L298.8 410.5 L299.9 413.4 L301.0 415.6 L302.0 416.2 L303.1 415.4 L304.2 420.7 L305.2 421.2 L306.3 415.2 L307.4 412.0 L308.4 415.8 L309.5 418.4 L310.6 415.4 L311.6 411.6 L312.3 405.9 L312.7 402.3 L313.0 396.3 L313.4 392.6 L313.8 385.1 L314.4 380.0 L314.9 377.5 L315.2 383.3 L315.5 387.0 L315.9 398.4 L316.6 401.9 L317.0 406.0 L317.3 400.6 L317.6 398.1 L318.1 390.3 L318.7 396.9 L319.6 401.7 L320.4 407.0 L321.3 410.6 L322.3 415.0 L323.4 415.1 L324.3 410.6 L325.1 406.8 L326.0 408.8 L326.6 411.5 L326.9 404.4 L327.2 398.5 L327.7 396.3 L328.1 388.9 L328.5 394.1 L328.9 399.7 L329.8 406.3 L330.4 400.8 L330.9 398.0 L331.5 404.7 L331.9 411.6 L332.6 405.9 L333.0 402.2 L333.6 405.9 L334.1 405.1 L335.1 407.7 L336.2 411.8 L337.1 406.4 L337.9 400.5 L338.3 404.9 L338.8 412.4 L339.1 415.9 L339.4 420.7 L340.5 420.2 L341.6 423.7 L342.3 422.5 L343.0 422.2 L343.9 423.7 L344.8 423.6 L345.6 422.0 L346.5 421.9 L347.2 423.4 L348.0 422.4 L348.7 421.1 L349.5 421.2 L350.3 420.2 L351.2 418.2 L352.2 419.7 L353.3 421.0 L354.4 416.0 L355.4 409.7 L356.5 412.7 L357.6 414.7 L358.0 409.4 L358.4 408.0 L359.3 400.9 L360.1 406.5 L360.8 406.5 L361.4 411.5 L362.3 417.3 L362.7 408.7 L363.1 403.1 L363.5 400.8 L364.0 397.8 L364.4 401.1 L364.8 403.6 L365.5 411.6 L366.3 406.8 L367.2 402.8 L367.5 397.8 L367.8 393.1 L368.2 389.0 L368.7 384.8 L369.3 390.4 L369.7 393.8 L370.4 389.4 L370.8 390.3 L371.1 392.6 L371.5 401.1 L372.1 405.5 L372.9 409.5 L373.6 413.3 L374.2 413.2 L375.1 411.2 L375.9 416.1 L376.8 419.8 L377.9 417.4 L378.9 416.9 L378.2 414.8 L377.4 413.0 L376.7 413.2 L376.0 411.8 L375.2 409.7 L374.5 408.7 L373.7 408.9 L373.0 407.6 L372.2 404.1 L371.5 405.3 L370.7 400.0 L370.0 401.7 L370.7 394.9 L371.2 389.7 L371.7 397.0 L372.4 402.2 L372.8 407.4 L373.5 411.6 L374.3 412.9 L374.7 415.9 L375.9 416.4 L377.1 415.7 L378.3 415.9 L379.5 416.1 L380.6 416.8 L381.8 419.4 L382.6 419.8 L383.4 419.1 L384.2 419.9 L385.0 420.7 L385.8 420.8 L386.5 419.9 L387.3 421.5 L388.1 421.5 L388.9 421.8 L389.7 423.0 L390.5 422.9 L391.3 423.1 L392.1 423.5 L392.8 423.3 L393.6 423.6 L394.4 422.8 L395.2 421.8 L396.0 423.8 L396.8 423.5 L397.6 423.4 L398.4 423.2 L399.1 423.2 L399.9 423.4 L400.7 422.8 L401.9 420.5 L403.1 415.9 L404.3 413.6 L405.5 413.6 L406.6 414.7 L407.8 417.0 L409.0 420.9 L410.2 424.5 L410.9 422.4 L411.6 423.4 L412.3 423.7 L413.0 423.7 L413.7 424.5 L414.4 423.4 L415.1 423.6 L415.9 423.9 L416.6 423.2 L417.3 424.7 L418.0 423.4 L418.7 424.5 L419.5 424.9 L420.2 423.7 L421.0 424.1 L421.7 424.1 L422.4 425.3 L423.2 424.5 L423.9 423.3 L424.7 425.0 L425.4 425.0 L426.1 423.3 L426.9 422.9 L427.6 426.0 L428.3 424.6 L429.1 423.3 L429.8 425.2 L430.6 425.4 L431.3 423.1 L432.0 425.3 L432.8 425.0 L433.5 424.5 L434.3 424.1 L435.0 424.8 L435.7 424.1 L436.5 424.6 L437.2 424.4 L438.0 424.3 L438.7 424.9 L439.4 425.1 L440.2 425.1 L440.9 424.8 L441.7 425.4 L442.5 423.6 L443.3 424.2 L444.1 424.2 L444.8 424.7 L445.6 422.5 L446.4 423.4 L447.2 423.3 L448.0 423.5 L448.8 424.6 L449.6 423.2 L450.4 422.8 L451.1 423.0 L451.9 423.2 L452.7 422.3 L453.5 423.3 L454.3 421.4 L455.1 422.7 L455.9 422.2 L456.7 422.2 L457.4 422.4 L458.2 421.2 L459.0 421.4 L459.8 421.2 L460.5 420.6 L461.2 420.5 L461.9 420.4 L462.6 421.3 L463.4 419.4 L464.1 420.0 L464.8 420.7 L465.5 421.4 L466.2 420.5 L466.9 421.3 L467.7 420.1 L468.5 419.4 L469.3 418.4 L470.1 419.1 L470.8 419.6 L471.6 418.2 L472.3 417.9 L473.0 419.2 L473.8 417.4 L474.5 416.8 L475.4 417.5 L476.4 416.5 L477.5 417.8 L478.7 415.5 L479.9 413.4 L480.6 415.4 L481.6 412.8 L482.3 416.4 L483.2 410.3 L483.9 412.3 L484.6 409.4 L485.3 412.6 L486.0 407.2 L487.0 403.8 L487.7 409.9 L488.2 407.0" fill="none" stroke="#ff0000" stroke-width="1.7" stroke-linejoin="round"/>
<line x1="162.2" x2="162.2" y1="303.8" y2="426.5" stroke="#808080" stroke-width="1.9" stroke-dasharray="6.5 3.68" stroke-dashoffset="7.28"/>
<line x1="169.2" x2="169.2" y1="303.8" y2="426.5" stroke="#000096" stroke-width="2"/>
<line x1="218.1" x2="218.1" y1="303.8" y2="426.5" stroke="#000096" stroke-width="2" stroke-dasharray="6.5 3.68" stroke-dashoffset="7.28"/>
<path d="M109.6 400.0 L110.3 400.0 L111.0 400.3 L111.8 400.1 L112.5 400.1 L113.2 399.9 L114.0 400.1 L114.8 400.5 L115.6 400.2 L116.4 400.4 L117.3 400.1 L118.6 398.8 L119.5 398.9 L120.4 398.4 L121.4 399.5 L122.2 399.3 L123.0 399.3 L123.8 398.6 L124.6 398.6 L125.4 398.9 L126.3 398.9 L127.1 399.1 L127.9 398.8 L128.7 398.9 L129.5 398.4 L130.4 398.7 L131.2 398.8 L132.0 398.4 L132.8 399.2 L133.6 398.8 L135.0 398.0 L136.4 397.3 L137.7 399.7 L138.6 400.0 L139.5 400.1 L140.4 400.5 L141.3 400.6 L142.1 400.5 L142.9 400.6 L143.7 401.0 L144.5 401.8 L145.4 400.9 L146.4 401.1 L147.3 401.0 L148.2 400.0 L149.1 400.3 L150.0 400.4 L151.4 395.2 L152.3 395.4 L153.2 395.1 L154.1 394.5 L154.9 395.1 L155.7 395.0 L156.5 394.6 L157.4 395.5 L158.2 395.6 L159.1 395.9 L160.0 396.2 L160.9 396.0 L161.7 396.0 L162.5 395.6 L163.1 396.1 L163.5 394.5 L163.6 390.0 L163.7 384.7 L163.8 380.3 L163.8 376.4 L163.9 373.6 L163.9 366.7 L164.0 362.9 L164.0 368.5 L164.0 373.7 L164.1 377.3 L164.1 379.6 L164.1 383.4 L164.2 389.9 L164.2 384.4 L164.3 379.4 L164.3 376.3 L164.3 371.7 L164.4 366.3 L164.4 371.0 L164.5 375.8 L164.5 381.3 L164.5 385.2 L164.6 389.7 L164.6 394.4 L164.6 388.4 L164.7 386.4 L164.7 381.9 L164.7 377.3 L164.8 371.0 L164.8 367.8 L164.9 373.2 L164.9 375.4 L165.0 381.0 L165.0 386.2 L165.1 380.1 L165.1 378.1 L165.2 373.0 L165.2 368.2 L165.2 364.3 L165.3 369.4 L165.4 373.7 L165.4 379.4 L165.5 382.7 L165.5 378.6 L165.6 375.5 L165.7 370.5 L165.8 374.0 L165.9 379.7 L166.0 375.2 L166.0 368.7 L166.1 362.9 L166.7 366.1 L167.8 363.5 L168.9 364.2 L169.9 365.2 L170.7 363.1 L171.4 364.8 L172.1 362.6 L172.8 362.8 L173.5 363.7 L174.2 363.9 L174.9 369.0 L175.3 375.0 L175.7 370.6 L176.3 364.2 L177.4 366.6 L178.5 363.0 L179.2 363.3 L179.9 363.5 L180.6 363.0 L181.3 364.1 L182.0 364.4 L182.7 366.1 L183.5 364.9 L184.2 364.5 L184.9 364.8 L185.6 365.2 L186.3 366.0 L187.0 365.0 L187.7 365.9 L188.4 367.4 L189.2 364.1 L190.0 365.9 L190.9 367.6 L191.6 368.2 L192.4 368.5 L193.4 364.8 L194.5 362.4 L195.6 358.9 L196.6 355.1 L197.7 359.1 L198.8 359.0 L199.8 359.3 L200.9 360.8 L201.6 360.9 L202.3 361.2 L203.0 359.3 L203.7 361.2 L204.4 362.6 L205.2 361.0 L206.2 357.6 L207.3 354.1 L208.4 355.8 L209.4 357.8 L210.5 356.7 L211.6 359.5 L212.3 359.8 L213.1 360.9 L213.9 361.5 L214.8 358.7 L215.6 361.2 L216.5 358.6 L217.2 359.8 L218.0 357.5 L218.7 359.6 L219.5 361.1 L220.3 360.9 L221.2 362.1 L222.0 362.3 L222.9 361.6 L223.6 361.1 L224.4 362.1 L223.7 361.5 L222.9 360.2 L222.2 362.4 L221.5 359.1 L220.8 360.5 L220.1 359.3 L219.3 359.4 L218.6 359.7 L217.9 359.1 L217.2 359.2 L216.5 357.3 L215.7 357.1 L215.0 358.5 L214.3 357.1 L213.6 356.8 L212.9 356.2 L212.2 358.2 L211.4 357.6 L210.7 358.0 L210.0 355.8 L210.9 357.7 L211.7 358.0 L212.5 360.5 L213.2 362.1 L214.3 360.8 L215.3 363.1 L216.4 361.6 L217.5 359.6 L218.5 357.8 L219.6 359.8 L220.7 360.1 L221.7 361.4 L222.8 359.0 L223.9 355.8 L224.9 360.5 L226.0 362.2 L226.7 364.1 L227.4 364.6 L228.1 364.8 L228.9 363.6 L229.6 363.3 L230.3 364.8 L231.2 364.3 L232.1 364.4 L233.1 365.6 L233.9 364.1 L234.8 362.3 L235.6 363.7 L236.5 362.9 L237.3 365.4 L238.2 365.4 L239.1 365.0 L240.0 365.8 L240.9 366.8 L241.7 366.4 L242.4 367.7 L243.3 366.3 L244.2 367.0 L244.9 367.0 L245.6 366.7 L246.3 364.6 L247.0 365.4 L247.7 362.9 L248.4 363.2 L249.3 362.3 L250.1 364.5 L250.9 362.3 L251.6 363.0 L252.4 362.5 L253.1 362.3 L254.0 361.6 L254.8 362.1 L255.7 364.1 L256.5 363.4 L257.3 364.7 L258.0 365.9 L259.1 366.4 L260.2 367.3 L261.2 365.7 L262.3 364.9 L263.4 363.4 L264.4 364.6 L265.5 367.4 L266.6 368.9 L267.2 367.2 L268.1 366.8 L268.9 363.3 L269.8 358.8 L270.6 353.2 L271.5 348.6 L272.8 350.5 L274.0 349.7 L275.1 350.1 L276.2 350.6 L277.0 347.9 L277.9 346.9 L278.7 348.1 L279.4 351.5 L278.4 349.4 L277.5 351.5 L277.9 347.5 L278.5 349.7 L279.4 351.6 L280.3 350.6 L281.0 349.3 L281.7 350.6 L282.5 352.3 L283.2 352.6 L284.1 354.3 L285.0 355.1 L285.8 355.7 L286.7 356.2 L287.4 357.9 L288.2 358.2 L288.9 358.2 L289.6 356.4 L290.5 358.4 L291.4 358.3 L292.2 356.6 L293.1 356.0 L293.8 357.5 L294.6 354.1" fill="none" stroke="#000" stroke-width="2.1" stroke-linejoin="round"/>
<path d="M298.8 355.5 L301.6 356.0" fill="none" stroke="#000" stroke-width="2"/>
<path d="M304.2 355.5 L304.9 355.8 L305.6 357.4 L306.3 356.2 L307.2 356.1 L308.0 355.6 L308.4 353.7 L309.5 351.8 L310.6 349.1 L311.6 347.5 L312.7 343.1 L313.8 341.8 L314.6 337.6 L315.3 334.7 L316.1 339.9 L317.0 343.2 L318.1 341.3 L319.1 340.1 L320.2 341.1 L321.3 341.3 L322.1 343.1 L323.0 341.4 L323.7 341.4 L324.5 340.5 L325.3 340.9 L326.0 338.4 L327.2 339.5 L328.0 339.0 L328.7 341.4 L329.5 340.5 L330.2 342.7 L331.1 341.0 L331.9 342.7 L332.7 343.8 L333.4 342.5 L334.1 343.5 L334.8 343.7 L335.5 344.5 L336.2 343.5 L337.1 345.0 L337.9 346.7 L338.7 344.2 L339.4 345.3 L340.5 349.2 L341.6 350.8 L342.2 346.0 L342.6 344.0 L343.7 339.3 L344.8 336.3 L345.6 335.9 L346.5 335.3 L347.2 333.8 L348.0 332.3 L348.7 334.2 L349.5 332.3 L350.3 332.7 L351.2 332.5 L352.4 327.9 L353.7 325.9 L354.6 328.9 L355.4 329.6 L356.5 329.3 L357.6 332.0 L358.4 332.5 L359.3 333.3 L360.0 333.6 L360.8 333.2 L361.5 333.6 L362.3 335.0 L363.1 333.6 L364.0 336.3 L364.7 335.8 L365.4 335.4 L366.1 335.5 L366.8 336.3 L367.5 335.0 L368.2 334.5 L369.0 337.3 L369.7 338.8 L370.4 338.0 L371.1 338.6 L371.8 339.1 L372.5 338.8 L373.2 340.3 L373.9 341.0 L374.7 340.7 L375.4 341.8 L376.1 340.5 L376.8 341.9 L377.6 340.8 L378.5 340.7 L379.2 341.1 L380.0 340.8 L379.3 342.7 L378.5 343.9 L377.8 343.8 L377.1 347.2 L377.8 344.7 L378.5 345.8 L379.2 345.9 L379.9 345.5 L380.6 345.8 L381.3 345.3 L382.1 344.4 L382.8 345.8 L383.5 345.0 L384.2 344.2 L385.0 344.8 L385.8 344.7 L386.5 344.8 L387.3 344.0 L388.1 344.5 L388.9 344.1 L389.7 345.4 L390.5 343.7 L391.3 345.0 L392.1 343.8 L392.8 344.7 L393.6 345.6 L394.3 343.6 L395.1 344.3 L395.8 343.7 L396.5 344.1 L397.2 344.4 L397.9 345.2 L398.6 346.1 L399.3 346.3 L400.0 345.5 L400.7 346.2 L401.5 344.7 L402.3 346.1 L403.1 345.2 L403.9 344.3 L404.7 344.5 L405.5 345.4 L406.2 345.1 L407.0 345.6 L407.8 344.8 L408.6 345.3 L409.4 345.1 L410.2 344.1 L411.0 345.4 L411.8 345.6 L412.5 345.3 L413.3 346.7 L414.1 347.9 L414.9 347.5 L415.7 346.2 L416.5 345.1 L417.3 345.8 L418.1 345.3 L418.8 345.9 L419.6 346.6 L420.4 345.7 L421.2 344.7 L422.0 347.1 L422.8 346.1 L423.6 347.3 L424.4 345.6 L425.1 348.3 L425.9 345.2 L426.7 346.2 L427.5 346.7 L428.3 343.8 L429.1 345.2 L429.8 344.6 L430.5 347.3 L431.2 346.6 L431.9 345.3 L432.6 344.7 L433.5 342.9 L434.3 342.7 L435.2 340.1 L436.2 339.3 L437.4 342.6 L438.5 345.9 L439.7 349.9 L440.9 350.0 L441.7 349.3 L442.5 349.8 L443.3 351.4 L444.1 351.2 L444.8 349.6 L445.6 352.0 L446.4 350.5 L447.2 351.8 L448.0 350.5 L448.8 350.3 L449.6 350.9 L450.4 348.7 L451.5 345.0 L452.7 339.3 L453.9 337.8 L455.1 339.0 L456.0 339.5 L457.0 340.1 L457.8 342.2 L458.6 343.7 L459.5 343.8 L460.3 342.9 L461.2 344.0 L462.2 344.0 L463.0 343.1 L463.8 343.9 L464.5 346.1 L465.3 343.9 L466.1 345.1 L466.9 346.3 L467.8 345.5 L468.8 346.8 L469.6 347.0 L470.4 348.9 L471.3 347.8 L472.1 349.5 L473.0 348.7 L474.0 349.9 L474.8 348.0 L475.6 348.3 L476.4 349.7 L477.1 349.2 L477.9 346.1 L478.7 349.7 L479.9 345.4 L481.1 344.4 L481.8 345.7 L482.3 343.6 L483.4 346.5 L484.6 348.1 L485.8 351.9 L487.0 354.7 L488.2 353.3 L488.9 355.7" fill="none" stroke="#000" stroke-width="2.1" stroke-linejoin="round"/>
<rect x="62.5" y="303.8" width="427.0" height="122.7" fill="none" stroke="#cccccc" stroke-width="1"/>
<rect x="285.5" y="310.6" width="196.3" height="42.4" rx="2.5" fill="#fff" fill-opacity="0.8" stroke="#d6d6d6" stroke-width="1"/>
<line x1="290.8" x2="318.8" y1="320.8" y2="320.8" stroke="#ff0000" stroke-width="1.8"/>
<line x1="290.8" x2="318.8" y1="341" y2="341" stroke="#000" stroke-width="1.9"/>
<text transform="translate(328.8 320.6) scale(1 1.07)" y="4.7" font-size="13.8" fill="#000">Solar wind flow pressure</text>
<text transform="translate(328.8 340.9) scale(1 1.07)" y="4.7" font-size="13.8" fill="#000">Solar wind speed</text>
<text transform="translate(57.7 426.5) scale(1 1.07)" y="6.0" text-anchor="end" font-size="15" fill="#ff0000">0</text>
<text transform="translate(57.7 402.0) scale(1 1.07)" y="6.0" text-anchor="end" font-size="15" fill="#ff0000">15</text>
<text transform="translate(57.7 377.4) scale(1 1.07)" y="6.0" text-anchor="end" font-size="15" fill="#ff0000">30</text>
<text transform="translate(57.7 352.9) scale(1 1.07)" y="6.0" text-anchor="end" font-size="15" fill="#ff0000">45</text>
<text transform="translate(57.7 328.3) scale(1 1.07)" y="6.0" text-anchor="end" font-size="15" fill="#ff0000">60</text>
<text transform="translate(57.7 303.8) scale(1 1.07)" y="6.0" text-anchor="end" font-size="15" fill="#ff0000">75</text>
<text transform="translate(494.8 426.5) scale(1 1.07)" y="6.0" font-size="15" fill="#000">200</text>
<text transform="translate(494.8 402.0) scale(1 1.07)" y="6.0" font-size="15" fill="#000">400</text>
<text transform="translate(494.8 377.4) scale(1 1.07)" y="6.0" font-size="15" fill="#000">600</text>
<text transform="translate(494.8 352.9) scale(1 1.07)" y="6.0" font-size="15" fill="#000">800</text>
<text transform="translate(494.8 328.3) scale(1 1.07)" y="6.0" font-size="15" fill="#000">1000</text>
<text transform="translate(494.8 303.8) scale(1 1.07)" y="6.0" font-size="15" fill="#000">1200</text>
<text transform="translate(34.9 365.1) rotate(-90)" text-anchor="middle" font-weight="bold" font-size="16.5" fill="#ff0000">Psw, nPa</text>
<text transform="translate(543.5 365.8) rotate(-90)" text-anchor="middle" font-weight="bold" font-size="16.5" fill="#000">Vsw, km/s</text>
<text x="68" y="318.8" font-weight="bold" font-size="16.6" fill="#000">c</text>
<line x1="62.5" x2="489.5" y1="472.2" y2="472.2" stroke="#cccccc" stroke-width="0.7" stroke-dasharray="2.4 1.5"/>
<line x1="62.5" x2="489.5" y1="492.7" y2="492.7" stroke="#cccccc" stroke-width="0.7" stroke-dasharray="2.4 1.5"/>
<line x1="62.5" x2="489.5" y1="513.2" y2="513.2" stroke="#cccccc" stroke-width="0.7" stroke-dasharray="2.4 1.5"/>
<line x1="62.5" x2="489.5" y1="533.7" y2="533.7" stroke="#cccccc" stroke-width="0.7" stroke-dasharray="2.4 1.5"/>
<line x1="62.5" x2="489.5" y1="554.2" y2="554.2" stroke="#cccccc" stroke-width="0.7" stroke-dasharray="2.4 1.5"/>
<line x1="204.8" x2="204.8" y1="451.7" y2="574.7" stroke="#cccccc" stroke-width="0.7" stroke-dasharray="2.4 1.5"/>
<line x1="347.2" x2="347.2" y1="451.7" y2="574.7" stroke="#cccccc" stroke-width="0.7" stroke-dasharray="2.4 1.5"/>
<path d="M108.3 513.1 L109.1 512.6 L109.9 512.9 L110.9 513.6 L111.8 514.1 L113.0 513.5 L114.2 512.8 L115.4 513.4 L116.5 513.5 L117.5 513.7 L118.4 514.6 L119.3 515.3 L120.1 515.3 L120.9 515.3 L121.7 515.3 L122.7 515.5 L123.6 515.2 L124.4 515.5 L125.2 515.8 L126.0 514.9 L126.8 515.6 L127.6 515.0 L128.4 515.1 L129.1 514.9 L129.9 515.7 L130.7 515.4 L131.5 515.3 L132.3 514.8 L133.1 514.5 L133.9 515.0 L134.7 515.3 L135.5 515.4 L136.2 515.6 L137.0 515.2 L137.8 515.8 L138.6 515.3 L139.4 515.6 L140.2 514.8 L141.0 514.5 L141.8 514.1 L142.5 514.5 L143.5 514.1 L144.4 513.4 L145.3 513.0 L146.1 512.3 L147.3 512.5 L148.5 511.8 L149.6 511.9 L150.8 512.5 L152.0 512.1 L153.2 511.9 L154.0 512.4 L154.8 512.3 L155.8 512.0 L156.7 511.7 L157.7 510.7 L158.6 511.4 L159.4 510.8 L160.3 510.9 L161.5 510.4 L162.6 509.7 L163.1 515.4 L163.3 520.3 L163.8 515.8 L164.3 514.3 L164.8 524.2 L165.0 528.1 L165.7 520.2 L166.2 513.2 L166.3 517.5 L166.5 525.4 L166.7 527.0 L166.8 531.9 L166.9 536.5 L167.0 530.6 L167.1 528.8 L167.2 525.8 L167.3 521.1 L167.4 516.2 L167.5 509.8 L167.7 503.7 L167.8 499.4 L168.0 503.3 L168.1 506.9 L168.3 514.0 L168.4 516.7 L168.5 522.4 L168.8 525.3 L169.0 534.1 L169.3 539.4 L169.7 543.7 L170.0 546.9 L170.4 539.9 L170.9 534.2 L171.1 529.2 L171.4 522.2 L171.5 518.6 L171.6 514.7 L171.9 519.6 L172.1 525.6 L172.6 533.5 L173.0 529.4 L173.3 523.3 L173.7 518.7 L174.2 512.4 L174.7 506.3 L175.2 499.8 L175.6 508.7 L176.1 514.9 L176.6 512.7 L177.1 511.4 L177.5 510.4 L178.0 514.1 L178.7 521.7 L179.2 527.0 L179.9 530.3 L180.4 531.9 L181.1 537.1 L181.5 538.9 L182.3 535.5 L182.7 528.6 L183.4 533.1 L183.9 537.0 L184.6 533.3 L185.1 530.0 L185.8 535.2 L186.3 538.4 L187.2 536.5 L187.9 535.8 L188.6 538.0 L189.3 542.6 L190.3 541.1 L191.0 540.0 L191.7 543.3 L192.2 546.4 L193.1 548.4 L193.8 548.5 L194.3 539.4 L194.5 532.1 L194.6 526.7 L194.7 524.4 L194.8 519.8 L194.9 514.5 L195.0 511.6 L195.1 506.1 L195.1 501.4 L195.2 495.3 L195.2 493.1 L195.4 486.7 L195.6 483.1 L195.7 478.3 L196.0 469.2 L196.1 474.8 L196.3 479.8 L196.4 484.9 L196.7 491.2 L196.9 496.3 L197.4 496.7 L197.8 495.9 L198.3 496.7 L198.8 499.7 L199.3 504.1 L199.7 509.2 L200.4 509.7 L201.2 515.0 L201.9 508.9 L202.3 508.3 L202.6 516.4 L202.8 518.4 L203.3 526.3 L204.0 529.8 L204.5 533.6 L204.9 538.6 L205.4 542.2 L205.9 533.4 L206.4 526.9 L206.6 532.1 L206.8 537.9 L207.3 548.2 L207.8 550.1 L208.2 552.1 L208.4 547.9 L208.6 542.8 L208.7 538.1 L209.0 533.7 L209.2 529.0 L209.4 533.8 L209.7 537.6 L209.9 545.5 L210.1 549.2 L210.4 544.9 L210.6 537.0 L210.8 530.5 L211.1 526.7 L211.4 531.9 L211.8 536.5 L212.0 541.4 L212.3 546.2 L213.0 541.7 L213.4 540.1 L213.8 533.9 L214.2 527.2 L214.4 522.6 L214.6 519.1 L215.3 525.3 L215.8 528.9 L216.5 535.5 L217.0 541.2 L217.7 537.0 L218.2 533.9 L218.9 539.6 L219.4 543.2 L220.1 532.6 L220.5 523.1 L221.2 530.5 L221.7 539.1 L222.4 530.4 L222.9 526.1 L223.6 533.0 L224.1 538.6 L224.8 533.7 L225.3 526.8 L226.0 533.1 L226.4 537.6 L227.2 538.9 L227.6 542.1 L228.3 531.4 L228.8 525.4 L229.5 523.0 L230.0 517.1 L229.3 520.0 L228.6 520.3 L227.9 523.9 L227.1 524.4 L226.4 526.6 L225.7 526.7 L225.0 528.8 L224.3 528.2 L223.6 532.8 L222.9 533.9 L222.1 535.0 L221.4 536.6 L220.7 537.7 L220.0 539.5 L220.7 533.9 L221.2 524.8 L221.9 532.0 L222.4 539.1 L223.1 531.6 L223.5 524.8 L224.3 533.7 L224.7 538.9 L225.4 531.0 L225.9 528.4 L226.6 531.6 L227.1 540.0 L228.0 537.3 L229.0 539.5 L229.5 531.9 L229.9 525.0 L230.6 519.4 L231.1 512.6 L231.8 506.2 L232.3 500.6 L233.0 507.3 L233.5 508.3 L234.2 505.9 L234.7 502.7 L235.4 509.9 L235.8 512.5 L236.5 505.6 L237.0 499.9 L237.2 505.1 L237.3 508.5 L237.5 514.1 L237.6 520.1 L237.7 526.5 L238.0 521.2 L238.2 517.4 L238.4 510.9 L238.7 504.8 L238.9 498.7 L239.3 503.2 L239.6 507.1 L240.1 516.4 L240.4 521.4 L240.8 524.5 L241.3 534.7 L242.0 538.9 L242.5 542.2 L243.2 544.3 L243.6 546.7 L244.3 544.2 L244.8 541.1 L245.5 541.3 L246.0 538.7 L246.7 534.6 L247.2 527.3 L247.9 521.1 L248.4 515.7 L249.1 509.9 L249.5 506.1 L250.3 501.6 L250.7 500.4 L251.4 505.4 L251.9 511.7 L252.1 516.8 L252.2 522.4 L252.4 528.1 L252.5 535.1 L252.6 536.6 L252.9 533.4 L253.1 527.7 L253.3 523.9 L253.6 516.3 L253.8 512.2 L254.0 517.1 L254.3 520.1 L254.7 528.3 L255.2 533.9 L255.5 540.4 L256.4 541.5 L257.3 543.2 L258.3 544.2 L259.0 543.3 L259.9 546.5 L260.7 545.5 L261.6 544.5 L262.5 542.0 L263.3 537.7 L263.7 531.3 L264.4 532.4 L264.9 529.2 L265.6 528.6 L266.1 528.3 L266.8 522.3 L267.3 521.1 L268.0 517.9 L268.5 516.8 L269.2 517.3 L269.6 517.3 L270.3 512.1 L270.8 508.1 L271.5 505.0 L272.0 501.6 L272.4 507.6 L272.7 513.7 L272.9 516.2 L273.2 520.2 L273.9 523.7 L274.4 525.9 L275.5 524.7 L276.7 527.1 L277.9 529.3 L279.1 530.7 L280.0 530.5 L281.0 530.8 L281.8 534.4 L282.6 529.9 L283.5 533.7 L284.3 530.9 L285.2 530.4 L286.2 530.1 L287.4 529.0 L288.5 526.8 L289.7 525.6 L290.9 526.9 L292.1 528.5 L293.3 527.4 L294.0 527.1 L294.5 521.7 L295.6 522.4 L296.8 521.1 L298.0 522.6 L299.2 520.7 L300.4 520.3 L301.5 518.1 L302.7 515.3 L303.9 516.6 L305.1 514.2 L306.3 514.4 L307.4 513.9 L308.6 512.3 L309.8 513.5 L311.0 511.9 L312.2 509.9 L313.4 509.7 L314.3 508.3 L315.2 505.7 L316.0 511.0 L316.4 514.2 L317.1 520.7 L317.6 524.4 L318.0 519.3 L318.3 512.9 L318.8 506.7 L319.7 505.0 L320.4 504.3 L321.4 502.5 L322.1 499.9 L322.5 505.8 L322.8 511.0 L323.0 515.1 L323.3 518.9 L323.6 514.4 L324.0 510.6 L324.5 499.5 L325.2 510.1 L325.6 516.7 L326.4 519.5 L326.8 520.4 L327.5 516.4 L328.0 514.7 L328.7 518.4 L329.4 522.4 L330.1 513.7 L330.6 508.5 L331.3 506.7 L331.8 502.6 L332.7 503.6 L333.4 505.5 L334.6 505.7 L335.8 505.0 L336.5 511.8 L337.0 516.0 L337.7 511.1 L338.2 505.7 L339.4 503.8 L340.5 505.0 L341.2 508.8 L341.7 512.4 L342.9 512.8 L344.1 513.6 L345.3 511.5 L346.4 510.3 L347.6 512.9 L348.8 515.4 L350.0 514.0 L351.1 514.6 L352.2 517.4 L353.1 516.7 L354.0 516.8 L355.0 515.2 L356.0 515.6 L356.7 514.8 L357.5 514.6 L358.2 514.5 L358.9 515.2 L359.6 515.2 L360.4 515.9 L361.1 516.1 L361.8 516.4 L363.0 516.3 L363.9 517.0 L364.4 512.3 L364.7 508.7 L365.5 507.7 L366.2 509.3 L366.9 509.1 L367.6 508.0 L368.5 511.3 L369.1 512.9 L370.0 512.5 L370.5 511.7 L371.6 510.8 L372.6 509.7 L373.4 510.5 L374.1 511.9 L374.9 510.7 L375.6 510.2 L376.4 510.9 L377.1 510.1 L377.8 511.1 L378.5 509.4 L379.3 510.0 L380.0 511.0 L380.7 510.9 L381.5 510.6 L382.2 509.7 L382.9 510.5 L383.6 510.8 L384.4 510.4 L385.1 510.8 L385.8 511.4 L386.5 510.9 L387.3 511.5 L388.0 511.2 L388.7 510.9 L389.5 510.8 L390.2 511.3 L390.9 511.3 L391.6 512.3 L392.4 512.0 L393.1 511.0 L393.9 512.8 L394.6 513.3 L395.4 511.9 L396.1 512.5 L397.0 512.2 L397.9 512.8 L398.8 512.5 L399.6 512.7 L400.4 512.8 L401.1 512.8 L401.8 513.1 L402.5 513.0 L403.7 510.1 L404.6 508.2 L405.5 509.6 L406.3 508.6 L407.2 509.1 L408.1 507.5 L408.9 508.2 L409.8 508.9 L410.5 509.3 L411.3 509.1 L412.0 508.9 L412.7 508.6 L413.5 509.5 L414.2 508.6 L414.9 509.6 L415.6 509.3 L416.4 509.2 L417.1 509.1 L417.8 508.6 L418.5 508.6 L419.3 509.5 L420.0 509.1 L420.7 509.1 L421.5 510.0 L422.2 510.0 L422.9 510.0 L423.6 509.2 L424.4 510.7 L425.1 510.5 L425.8 509.8 L426.5 510.1 L427.3 510.9 L428.0 511.1 L428.7 510.4 L429.5 510.1 L430.2 511.4 L430.9 510.6 L431.6 511.4 L432.4 511.2 L433.1 511.3 L434.0 512.2 L434.8 514.1 L435.7 513.9 L436.6 514.8 L437.7 513.1 L438.9 513.5 L439.6 512.5 L440.4 511.8 L441.1 512.2 L441.8 511.4 L442.5 512.0 L443.3 511.5 L444.0 512.6 L444.7 512.6 L445.5 513.0 L446.2 511.6 L446.9 511.3 L447.6 510.6 L448.4 511.7 L449.1 511.1 L449.8 512.1 L450.5 512.4 L451.3 511.0 L452.1 512.1 L452.9 513.4 L453.9 512.2 L454.9 512.8 L456.1 510.9 L457.2 508.6 L458.4 510.5 L459.3 513.6 L460.0 512.6 L460.7 512.2 L461.5 512.0 L462.2 512.2 L462.9 512.4 L463.6 512.1 L464.4 513.7 L465.1 513.8 L465.8 514.1 L466.5 513.9 L467.3 514.1 L468.0 514.9 L468.7 516.0 L469.5 516.0 L470.2 516.1 L470.9 516.5 L471.6 516.9 L472.4 517.0 L473.1 517.5 L473.8 516.8 L474.5 518.2 L475.3 519.1 L476.0 519.0 L476.7 520.0 L477.5 519.6 L478.2 518.2 L478.9 517.4 L479.6 517.8 L480.5 509.8 L481.1 505.1 L482.3 506.0 L483.1 507.9 L484.0 510.0 L484.6 511.5 L485.7 511.8 L486.9 510.4 L488.1 511.7 L488.9 512.6" fill="none" stroke="#000" stroke-width="2.2" stroke-linejoin="round"/>
<line x1="162.2" x2="162.2" y1="451.7" y2="574.7" stroke="#808080" stroke-width="1.9" stroke-dasharray="6.5 3.68" stroke-dashoffset="6.98"/>
<line x1="169.2" x2="169.2" y1="451.7" y2="574.7" stroke="#000096" stroke-width="2"/>
<line x1="218.1" x2="218.1" y1="451.7" y2="574.7" stroke="#000096" stroke-width="2" stroke-dasharray="6.5 3.68" stroke-dashoffset="6.98"/>
<rect x="62.5" y="451.7" width="427.0" height="123.0" fill="none" stroke="#cccccc" stroke-width="1"/>
<text transform="translate(57.7 451.7) scale(1 1.07)" y="6.0" text-anchor="end" font-size="15" fill="#000">75</text>
<text transform="translate(57.7 472.2) scale(1 1.07)" y="6.0" text-anchor="end" font-size="15" fill="#000">50</text>
<text transform="translate(57.7 492.7) scale(1 1.07)" y="6.0" text-anchor="end" font-size="15" fill="#000">25</text>
<text transform="translate(57.7 513.2) scale(1 1.07)" y="6.0" text-anchor="end" font-size="15" fill="#000">0</text>
<text transform="translate(57.7 533.7) scale(1 1.07)" y="6.0" text-anchor="end" font-size="15" fill="#000">−25</text>
<text transform="translate(57.7 554.2) scale(1 1.07)" y="6.0" text-anchor="end" font-size="15" fill="#000">−50</text>
<text transform="translate(57.7 574.7) scale(1 1.07)" y="6.0" text-anchor="end" font-size="15" fill="#000">−75</text>
<text transform="translate(26.4 513.2) rotate(-90)" text-anchor="middle" font-weight="bold" font-size="16.5" fill="#000">IMF Bz, nT</text>
<text x="68" y="466.7" font-weight="bold" font-size="16.6" fill="#000">d</text>
<text transform="translate(62.2 598.2) scale(1 1.07)" y="5.15" text-anchor="middle" font-size="15" fill="#000">2024-05-10</text>
<text transform="translate(204.5 598.2) scale(1 1.07)" y="5.15" text-anchor="middle" font-size="15" fill="#000">2024-05-11</text>
<text transform="translate(346.9 598.2) scale(1 1.07)" y="5.15" text-anchor="middle" font-size="15" fill="#000">2024-05-12</text>
<text transform="translate(489.2 598.2) scale(1 1.07)" y="5.15" text-anchor="middle" font-size="15" fill="#000">2024-05-13</text>
</svg></body></html>
